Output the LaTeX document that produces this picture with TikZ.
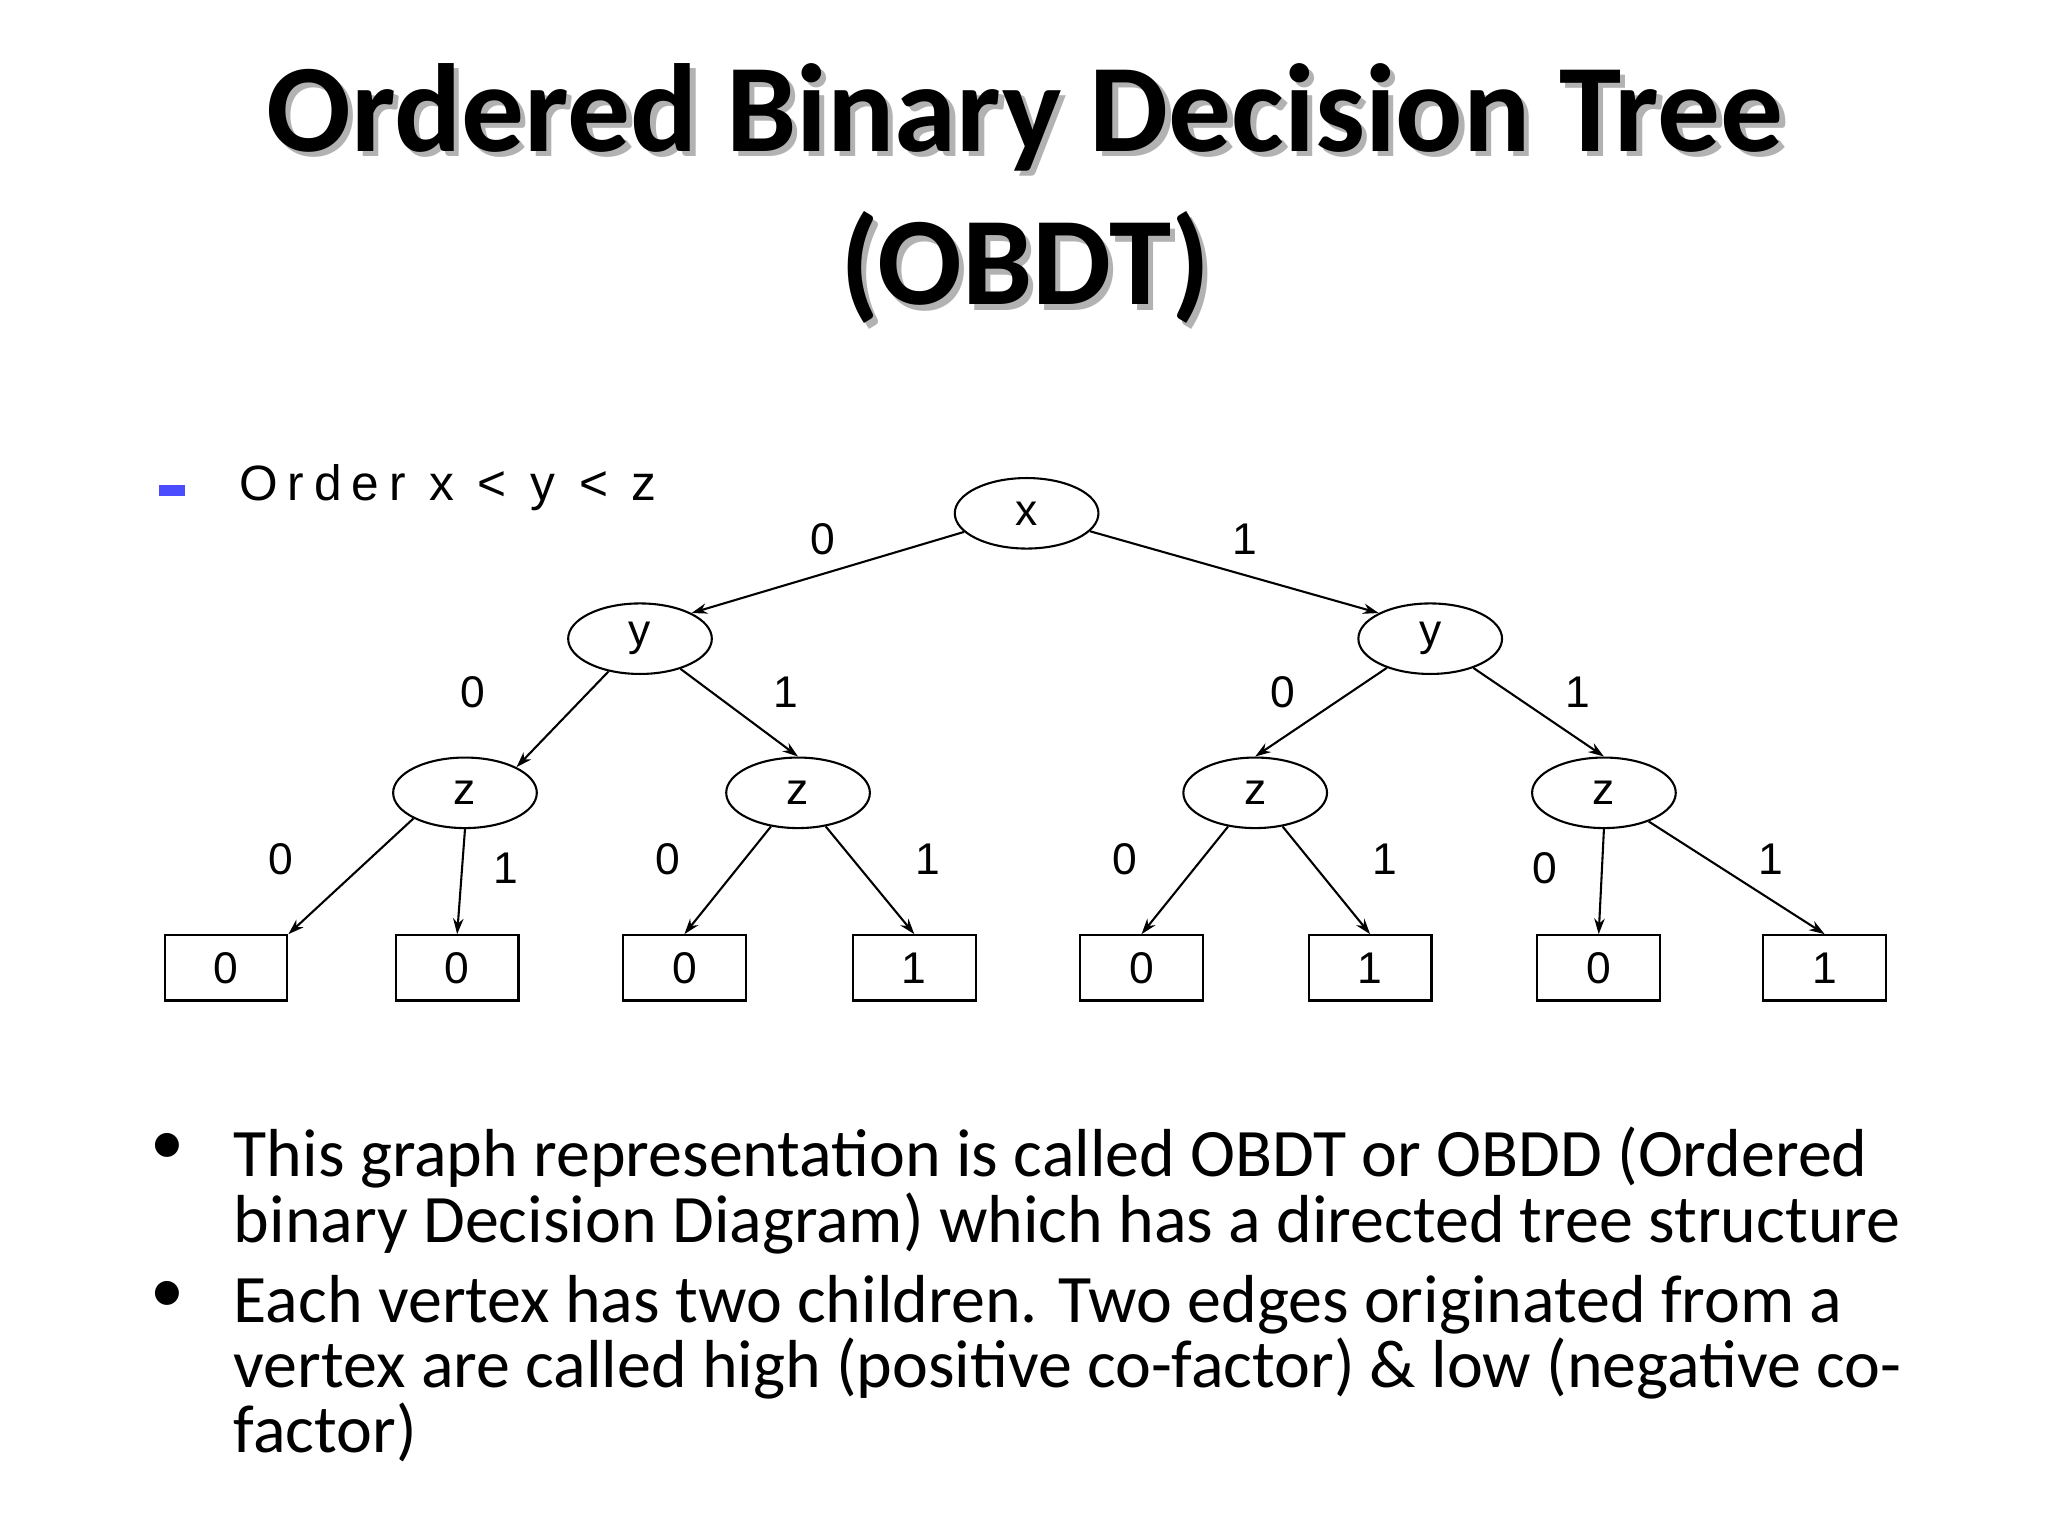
\documentclass[tikz,border=0pt]{standalone}
\usepackage{fontspec}
\setmainfont{Carlito}
\newfontfamily\arl[LetterSpace=12]{Liberation Sans}
\newfontfamily\arlw[LetterSpace=20]{Liberation Sans}
\usetikzlibrary{shapes.geometric,arrows.meta}
\begin{document}
\begin{tikzpicture}[x=0.5pt,y=-0.5pt,
 vnode/.style={ellipse,draw,thick,minimum width=55pt,minimum height=27pt,inner sep=0pt,font=\arl\fontsize{17}{17}\selectfont},
 leaf/.style={rectangle,draw,thick,minimum width=47pt,minimum height=25pt,inner sep=0pt,font=\arl\fontsize{17}{17}\selectfont},
 edge/.style={-{Stealth[length=6pt,width=4pt]},thick},
 lbl/.style={font=\arl\fontsize{17}{17}\selectfont}]
\useasboundingbox (0,0) rectangle (1568,1176);
\foreach \t/\yy in {{Ordered Binary Decision Tree}/90,{(OBDT)}/205}{
 \node[text=gray!60,font=\bfseries\fontsize{48}{48}\selectfont] at (789,\yy+4) {\t};
 \node[font=\bfseries\fontsize{48}{48}\selectfont] at (785,\yy) {\t};}
\fill[blue!70] (122,371) rectangle (142,380);
\node[anchor=west,font=\arlw\fontsize{19}{19}\selectfont] (ord) at (176,373) {Order x \textless{} y \textless{} z};
\node[vnode] (x) at (786,393) {x};
\node[vnode] (y0) at (490,489) {y};
\node[vnode] (y1) at (1095,489) {y};
\node[vnode] (z0) at (356,607) {z};
\node[vnode] (z1) at (611,607) {z};
\node[vnode] (z2) at (961,607) {z};
\node[vnode] (z3) at (1228,607) {z};
\foreach \n/\xx/\v in {l1/173/0,l2/350/0,l3/524/0,l4/700/1,l5/874/0,l6/1049/1,l7/1224/0,l8/1397/1}
 \node[leaf] (\n) at (\xx,741) {\v};
\draw[edge] (x) -- (y0.north east);
\draw[edge] (x) -- (y1.north west);
\draw[edge] (y0) -- (z0.north east);
\draw[edge] (y0) -- (z1.north);
\draw[edge] (y1) -- (z2.north);
\draw[edge] (y1) -- (z3.north);
\draw[edge] (z0.south west) -- (l1.north east);
\draw[edge] (z0.south) -- (l2.north);
\draw[edge] (z1) -- (l3.north);
\draw[edge] (z1) -- (l4.north);
\draw[edge] (z2) -- (l5.north);
\draw[edge] (z2) -- (l6.north);
\draw[edge] (z3.south) -- (l7.north);
\draw[edge] (z3) -- (l8.north);
\foreach \n/\xx/\yy/\v in {a/630/413/0,b/953/413/1,c/362/530/0,d/602/530/1,e/982/530/0,f/1208/530/1,
 g/215/658/0,h/387/665/1,i/511/658/0,j/710/658/1,k/861/658/0,m/1060/658/1,n/1183/665/0,o/1356/658/1}
 \node[lbl] (t\n) at (\xx,\yy) {\v};
\node[font=\fontsize{26}{26}\selectfont] (b1) at (128,880) {•};
\node[font=\fontsize{26}{26}\selectfont] (b2) at (128,993) {•};
\node[anchor=north west,align=left,font=\fontsize{26}{25}\selectfont] (p1) at (172,856) {This graph representation is called OBDT or OBDD (Ordered\\binary Decision Diagram) which has a directed tree structure};
\node[anchor=north west,align=left,font=\fontsize{26}{25}\selectfont] (p2) at (172,969) {Each vertex has two children. Two edges originated from a\\vertex are called high (positive co-factor) \& low (negative co-\\factor)};
\end{tikzpicture}
\end{document}
